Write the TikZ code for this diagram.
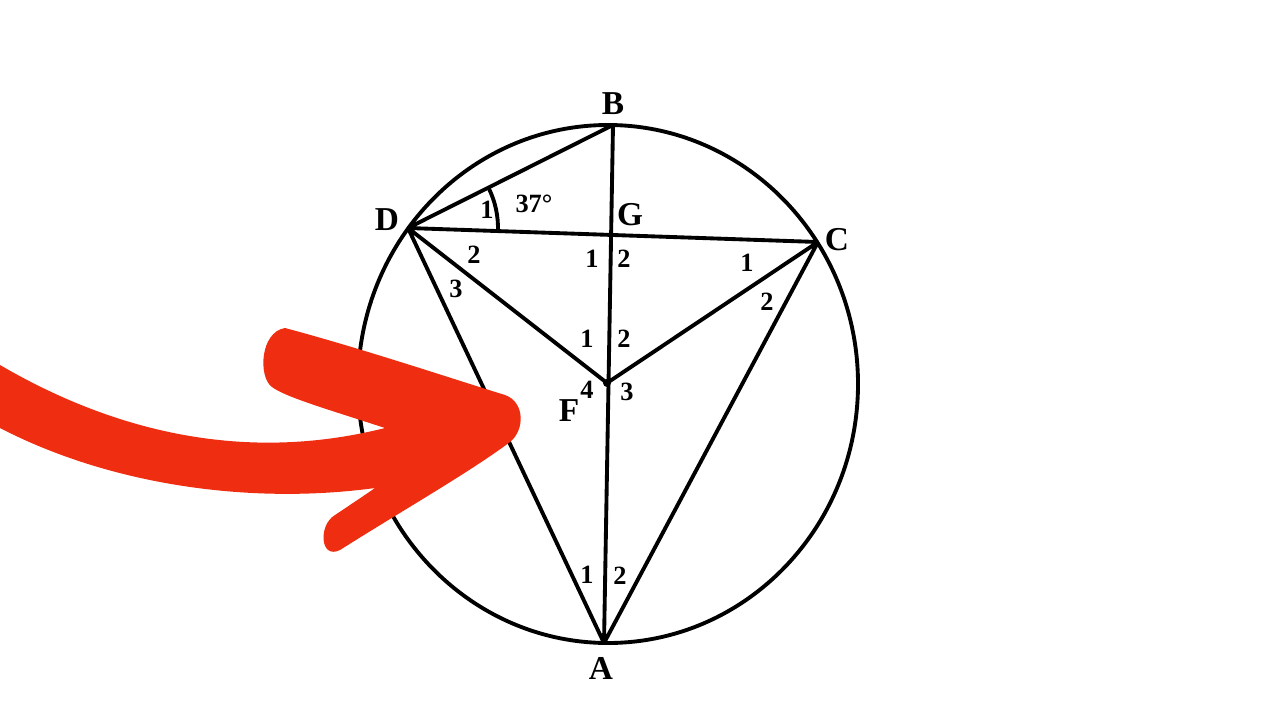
\documentclass[tikz,border=0pt]{standalone}
\usepackage{fontspec}
\setmainfont{Liberation Serif}
\definecolor{brushred}{HTML}{EF2D10}
\begin{document}
\begin{tikzpicture}[x=0.02cm,y=-0.02cm]
    \tikzstyle{pointlabel}=[font=\fontsize{19}{19}\selectfont\bfseries, inner sep=0pt]
    \tikzstyle{anglelabel}=[font=\fontsize{15}{15}\selectfont\bfseries, inner sep=0pt]
    \tikzstyle{segment}=[line width=2.2pt, line join=round]
    \useasboundingbox[fill=white] (0,0) rectangle (1280,720);

    \coordinate (B) at (613,125);
    \coordinate (D) at (408,228);
    \coordinate (C) at (818,242);
    \coordinate (A) at (604,643);
    \coordinate (F) at (607,383);
    \coordinate (G) at (611,235);

    \draw[segment] (608,384) ellipse [x radius=250, y radius=259];
    \draw[segment] (D) -- (B)
                   (D) -- (C)
                   (B) -- (A)
                   (D) -- (F) -- (C)
                   (D) -- (A) -- (C);
    \fill (F) circle (4);

    % angle at D
    \draw[segment] ([shift={(1.96:90)}]D) arc (1.96:-26.7:90);

    \node[pointlabel] (labB) at (613,104) {B};
    \node[pointlabel] (labD) at (387,220) {D};
    \node[pointlabel] (labC) at (837,240) {C};
    \node[pointlabel] (labG) at (630,215) {G};
    \node[pointlabel] (labF) at (569,411) {F};
    \node[pointlabel] (labA) at (601,668) {A};

    \node[anglelabel] (d1) at (487,210) {1};
    \node[anglelabel] (deg) at (534,204) {37°};
    \node[anglelabel] (d2) at (474,255) {2};
    \node[anglelabel] (d3) at (456,289) {3};
    \node[anglelabel] (g1) at (592,259) {1};
    \node[anglelabel] (g2) at (624,259) {2};
    \node[anglelabel] (c1) at (747,263) {1};
    \node[anglelabel] (c2) at (767,302) {2};
    \node[anglelabel] (f1) at (587,339) {1};
    \node[anglelabel] (f2) at (624,339) {2};
    \node[anglelabel] (f4) at (587,390) {4};
    \node[anglelabel] (f3) at (627,392) {3};
    \node[anglelabel] (a1) at (587,575) {1};
    \node[anglelabel] (a2) at (620,576) {2};

    % red brush arrow
    \fill[brushred] (0,365) .. controls (120,435) and (250,462) .. (385,428)
        .. controls (330,410) and (285,397) .. (272,387)
        .. controls (258,377) and (260,332) .. (285,328)
        .. controls (360,348) and (450,378) .. (505,395)
        .. controls (525,402) and (525,430) .. (510,442)
        .. controls (470,472) and (400,512) .. (340,550)
        .. controls (320,560) and (318,525) .. (335,515)
        .. controls (350,505) and (365,495) .. (375,488)
        .. controls (250,505) and (110,485) .. (0,428) -- cycle;
\end{tikzpicture}
\end{document}
